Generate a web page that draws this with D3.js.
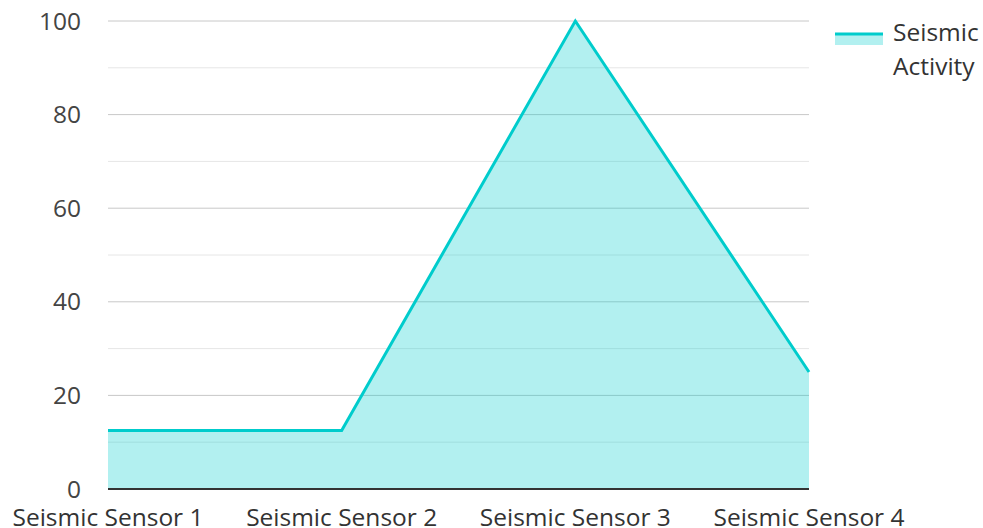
<!DOCTYPE html>
<html><head><meta charset="utf-8">
<script src="https://cdn.jsdelivr.net/npm/d3@7"></script>
<style>body{margin:0;background:#fff}svg{display:block;font-family:"Open Sans","Noto Sans",sans-serif}</style>
</head><body><svg id="c" width="983" height="528"></svg>
<script>
const categories = ["Seismic Sensor 1","Seismic Sensor 2","Seismic Sensor 3","Seismic Sensor 4"];
const seriesName = "Seismic Activity";
const values = [12.5, 12.5, 100, 25];
const majorTicks = [0,20,40,60,80,100];
const minorTicks = [10,30,50,70,90];

const svg = d3.select("#c");
const L = 108, R = 809, T = 21, B = 489;
const x = d3.scalePoint().domain(categories).range([L, R]);
const y = d3.scaleLinear().domain([0,100]).range([B, T]);
const color = "#00cccc";
const fs = 24.5;

svg.append("g").selectAll("line").data(minorTicks).join("line")
  .attr("x1", L).attr("x2", R).attr("y1", d=>y(d)).attr("y2", d=>y(d))
  .attr("stroke", "#e6e6e6").attr("stroke-width", 1);
svg.append("g").selectAll("line").data(majorTicks.filter(d=>d>0)).join("line")
  .attr("x1", L).attr("x2", R).attr("y1", d=>y(d)).attr("y2", d=>y(d))
  .attr("stroke", "#c8c8c8").attr("stroke-width", 1);

const data = categories.map((c,i)=>({c, v: values[i]}));
svg.append("path").datum(data)
  .attr("d", d3.area().x(d=>x(d.c)).y0(y(0)).y1(d=>y(d.v)))
  .attr("fill", color).attr("fill-opacity", 0.3);
svg.append("path").datum(data)
  .attr("d", d3.line().x(d=>x(d.c)).y(d=>y(d.v)))
  .attr("fill", "none").attr("stroke", color).attr("stroke-width", 3).attr("stroke-linejoin","miter");

svg.append("line").attr("x1", L).attr("x2", R).attr("y1", y(0)).attr("y2", y(0))
  .attr("stroke", "#333").attr("stroke-width", 2);

svg.append("g").selectAll("text").data(majorTicks).join("text")
  .attr("x", 81).attr("y", d=>y(d)).attr("dy", "0.35em").attr("text-anchor","end")
  .attr("font-size", fs).attr("fill", "#444").text(d=>d);

svg.append("g").selectAll("text").data(categories).join("text")
  .attr("x", d=>x(d)).attr("y", 526).attr("text-anchor","middle")
  .attr("font-size", fs).attr("fill", "#333").text(d=>d);

const lg = svg.append("g");
lg.append("rect").attr("x", 835).attr("y", 33).attr("width", 48).attr("height", 12).attr("fill", color).attr("fill-opacity", 0.3);
lg.append("line").attr("x1", 835).attr("x2", 883).attr("y1", 34).attr("y2", 34).attr("stroke", color).attr("stroke-width", 3);
const words = seriesName.split(" ");
lg.selectAll("text").data(words).join("text")
  .attr("x", 893).attr("y", (d,i)=>41+i*34).attr("font-size", fs).attr("fill", "#333").text(d=>d);
</script></body></html>
